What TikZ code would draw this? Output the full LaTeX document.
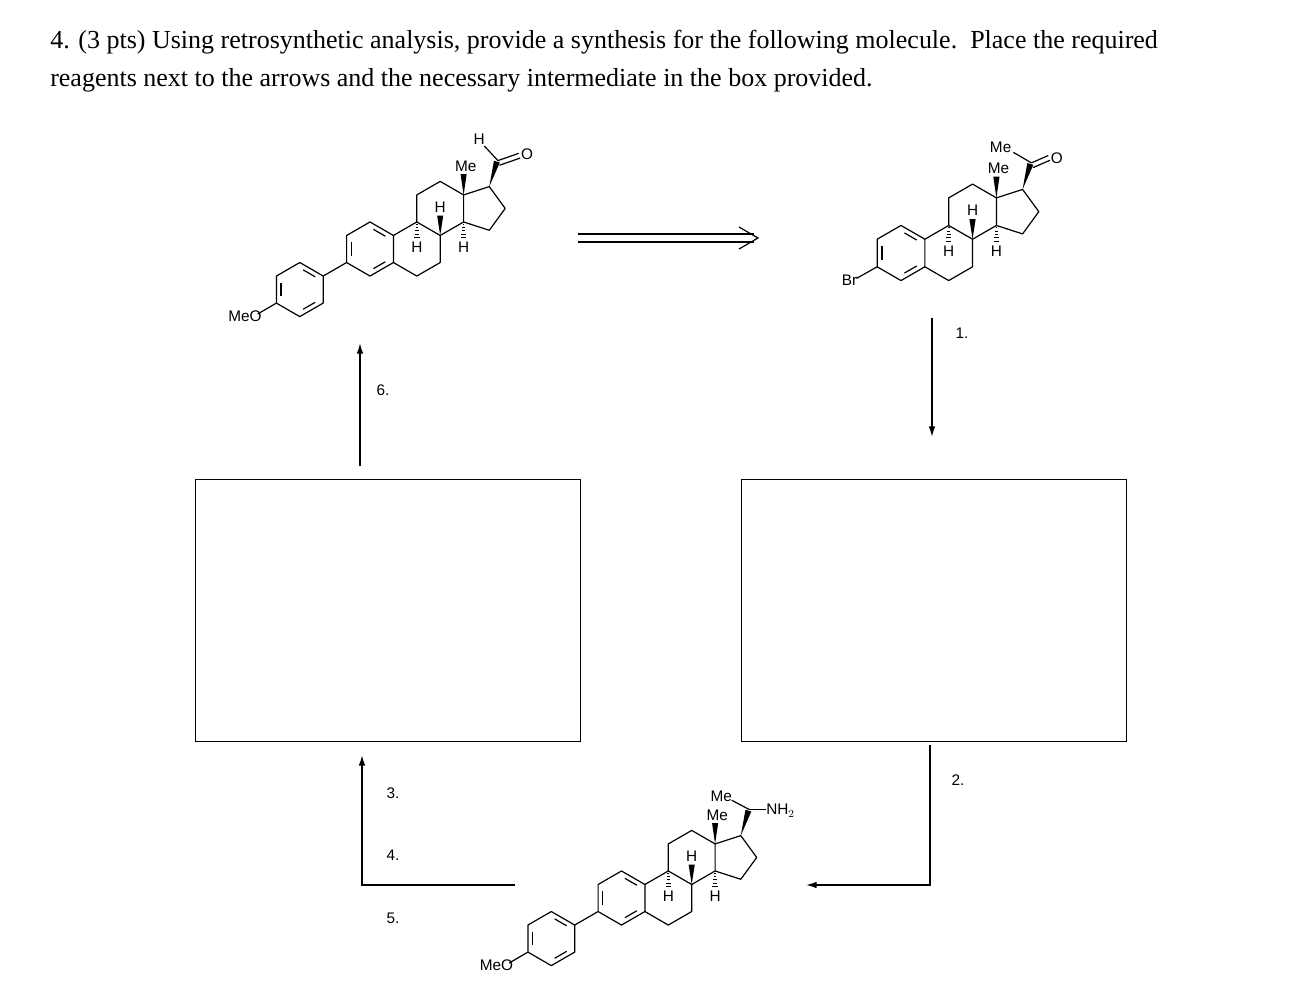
\documentclass[tikz,border=0pt]{standalone}
\usepackage{fontspec}
\setmainfont{Liberation Serif}
\setsansfont{Liberation Sans}
\usetikzlibrary{calc,arrows.meta}
\tikzset{
  bd/.style={line width=0.9pt, line join=round},
  lab/.style={font=\sffamily\fontsize{11.5}{12}\selectfont, inner sep=0pt},
  rxn/.style={line width=1.1pt},
  tipped/.style={rxn, -{Latex[length=8pt,width=5pt]}},
  boxx/.style={draw, line width=0.8pt}
}
\newcommand\innerdbl[3]{\draw[bd] ($(#1)!.18!(#2)!.2!(#3)$) -- ($(#2)!.18!(#1)!.2!(#3)$);}
\newcommand\wdg[2]{\fill ($(#1)$) -- ($(#2)!2.2pt!90:(#1)$) -- ($(#2)!2.2pt!-90:(#1)$) -- cycle;}
\newcommand\hashdown[2]{\foreach \k in {0,...,4} \draw[line width=.6pt] ({#1-0.8-0.45*\k},{#2+2+3.2*\k}) -- ({#1+0.8+0.45*\k},{#2+2+3.2*\k});}
% steroid core (rings A-D), ring A centre at origin, bond length 26
\newcommand\stcore{%
  \draw[bd] (0,-26) -- (22.5,-13) -- (22.5,13) -- (0,26) -- (-22.5,13) -- (-22.5,-13) -- cycle;
  \innerdbl{-22.5,-13}{-22.5,13}{0,0}
  \innerdbl{0,-26}{22.5,-13}{0,0}
  \innerdbl{22.5,13}{0,26}{0,0}
  \draw[bd] (22.5,-13) -- (45,-26) -- (67.5,-13) -- (67.5,13) -- (45,26) -- (22.5,13);
  \draw[bd] (45,-26) -- (45,-52) -- (67.5,-65) -- (90,-52) -- (90,-26) -- (67.5,-13);
  \draw[bd] (90,-52) -- (114.7,-60) -- (130,-39) -- (114.7,-18) -- (90,-26);
  \hashdown{45}{-26}
  \node[lab] at (45,-2) {H};
  \wdg{67.5,-13}{67.5,-32}
  \node[lab] at (67.5,-40) {H};
  \hashdown{90}{-26}
  \node[lab] at (90,-2) {H};
  \wdg{90,-52}{90,-72}
  \node[lab] at (92,-80) {Me};
  \wdg{114.7,-60}{122,-84}
}
\newcommand\anisyl{%
  \draw[bd] (-22.5,13) -- (-45,26);
  \draw[bd] (-67.5,13) -- (-45,26) -- (-45,52) -- (-67.5,65) -- (-90,52) -- (-90,26) -- cycle;
  \innerdbl{-90,26}{-90,52}{-67.5,39}
  \innerdbl{-67.5,13}{-45,26}{-67.5,39}
  \innerdbl{-45,52}{-67.5,65}{-67.5,39}
  \draw[bd] (-90,52) -- (-108,62.5);
  \node[lab, anchor=east] at (-104,65) {MeO};
}
\begin{document}
\begin{tikzpicture}[x=0.75pt,y=-0.75pt]
\useasboundingbox (0,0) rectangle (1304,990);
\fill[white] (0,0) rectangle (1304,990);
% question
\node[anchor=north west, inner sep=0pt, align=left, font=\fontsize{19.5}{28.5}\selectfont] (q) at (50,30)
 {4. (3 pts) Using retrosynthetic analysis, provide a synthesis for the following molecule.\ \ Place the required\\
  reagents next to the arrows and the necessary intermediate in the box provided.};
% top-left aldehyde
\begin{scope}[shift={(370,249)}, scale=1.04]
  \stcore \anisyl
  \draw[bd] (123,-85) -- (110,-99);
  \node[lab] at (105,-106) {H};
  \draw[bd] (123,-85) -- (143,-92);
  \draw[bd] (124.5,-80.5) -- (144.5,-87.5);
  \node[lab] at (151,-91) {O};
\end{scope}
% top-right ketone
\begin{scope}[shift={(901,253)}, scale=1.06]
  \stcore
  \draw[bd] (-22.5,13) -- (-42,24);
  \node[lab, anchor=east] at (-41,26) {Br};
  \draw[bd] (123,-85) -- (106,-95);
  \node[lab] at (94,-100) {Me};
  \draw[bd] (123,-85) -- (139,-92);
  \draw[bd] (124.5,-80.5) -- (140.5,-87.5);
  \node[lab] at (147,-89) {O};
\end{scope}
% bottom amine
\begin{scope}[shift={(621.5,898)}, scale=1.04]
  \stcore \anisyl
  \draw[bd] (123,-85) -- (106,-94);
  \node[lab] at (96,-98) {Me};
  \draw[bd] (123,-85) -- (139,-85);
  \node[lab, anchor=west] at (139,-84) {NH$_2$};
\end{scope}
% retrosynthetic arrow
\coordinate (r1) at (578,238);
\coordinate (r2) at (758,238);
\draw[rxn, line width=0.9pt] (578,234) -- (754,234) (578,242) -- (754,242);
\draw[rxn, line width=0.9pt, line join=miter] (739,227) -- (r2) -- (739,249);
% boxes
\node[boxx, minimum width=288.75pt, minimum height=196.5pt, anchor=north west] (bl) at (195,479) {};
\node[boxx, minimum width=288.75pt, minimum height=196.5pt, anchor=north west] (br) at (741,479) {};
% arrow 1
\coordinate (a1s) at (932,318);
\coordinate (a1e) at (932,437);
\draw[tipped] (a1s) -- (a1e);
\node[lab] (l1) at (962,333) {1.};
% arrow 6
\coordinate (a6s) at (360,466);
\coordinate (a6e) at (360,343);
\draw[tipped] (a6s) -- (a6e);
\node[lab] (l6) at (383,390) {6.};
% arrow 2
\coordinate (a2s) at (930,745);
\coordinate (a2c) at (930,885);
\coordinate (a2e) at (806,885);
\draw[tipped] (a2s) -- (a2c) -- (a2e);
\node[lab] (l2) at (958,780) {2.};
% arrow 3-5
\coordinate (a3s) at (515,885);
\coordinate (a3c) at (362,885);
\coordinate (a3e) at (362,755);
\draw[tipped] (a3s) -- (a3c) -- (a3e);
\node[lab] (l3) at (393,793) {3.};
\node[lab] (l4) at (393,855) {4.};
\node[lab] (l5) at (393,918) {5.};
\end{tikzpicture}
\end{document}
